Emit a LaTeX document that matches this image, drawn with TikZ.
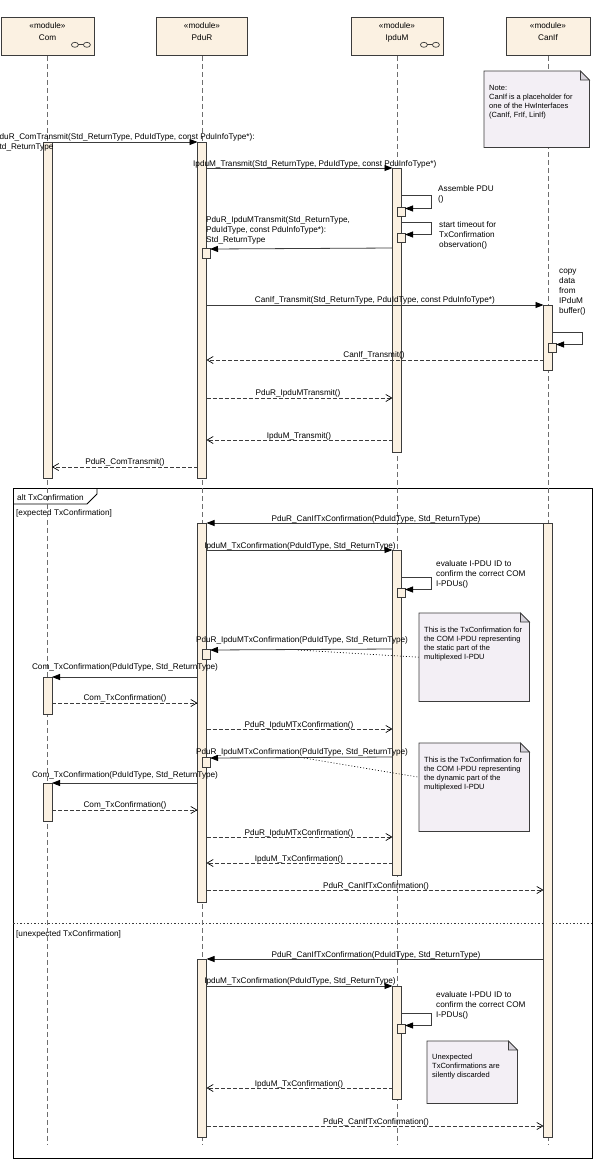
\documentclass[tikz,border=0pt]{standalone}
\usepackage{fontspec}
\setmainfont{Liberation Sans}
\usetikzlibrary{arrows.meta}
\definecolor{modfill}{RGB}{251,241,226}
\definecolor{notefill}{RGB}{243,239,245}
\definecolor{foldfill}{RGB}{214,210,218}
\definecolor{linegray}{RGB}{60,60,60}
\definecolor{lifegray}{RGB}{110,110,110}
\tikzset{
  module/.style={draw=linegray,fill=modfill,line width=0.8pt,inner sep=0pt,minimum height=38pt},
  act/.style={draw=linegray,fill=modfill,line width=0.8pt,minimum width=9pt,inner sep=0pt,outer sep=0pt},
  nested/.style={act,minimum width=8pt,minimum height=9pt},
  lifeline/.style={draw=lifegray,line width=0.8pt,dash pattern=on 5pt off 3pt},
  call/.style={draw=linegray,line width=0.8pt,-{Triangle[length=8pt,width=6pt,color=black]}},
  reply/.style={draw=linegray,line width=0.7pt,dash pattern=on 4pt off 2pt,-{Straight Barb[length=6pt,width=7pt,color=black]}},
  lbl/.style={inner sep=0pt,font=\fontsize{8.2}{10}\selectfont,align=left},
  notebox/.style={inner sep=0pt,anchor=north west},
  notetxt/.style={inner sep=0pt,font=\fontsize{7.5}{9}\selectfont,align=left,anchor=north west},
  notelink/.style={draw=black,line width=0.6pt,dash pattern=on 1pt off 2pt},
}
\begin{document}
\begin{tikzpicture}[x=1pt,y=-1pt]
  \useasboundingbox (0,0) rectangle (596,1168);

  % message levels
  \foreach \n/\y in {m1/142,m2/168,s1/195,s2/222,m5/248,m6/305,s3/332,m8/360,m9/398,m10/440,m11/467,
      a1/523,a2/550,s4/577,a4/649,a5/677,a6/703,a7/729,a8/757,a9/783,a10/810,a11/837,a12/863,a13/890,
      sep/923,b1/959,b2/986,s5/1013,b4/1088,b5/1126,lend/1145}
    \coordinate (\n) at (0,\y);

  % modules
  \path (47.5,17) node[module,anchor=north,minimum width=93pt] (com) {};
  \path (202,17) node[module,anchor=north,minimum width=91pt] (pdur) {};
  \path (397,17) node[module,anchor=north,minimum width=92pt] (ipdum) {};
  \path (548,17) node[module,anchor=north,minimum width=84pt] (canif) {};
  \foreach \m/\t in {com/Com,pdur/PduR,ipdum/IpduM,canif/CanIf}
    \path ([yshift=-5pt]\m.north) node[lbl,anchor=north,align=center] (\m-name) {«module»\\[2pt]\t};
  \foreach \m in {com,ipdum} {
    \draw[linegray,line width=0.7pt] ([xshift=-19.5pt,yshift=11pt]\m.south east) ellipse [x radius=3.5pt,y radius=2.5pt];
    \draw[linegray,line width=0.7pt] ([xshift=-7.5pt,yshift=11pt]\m.south east) ellipse [x radius=3.5pt,y radius=2.5pt];
    \draw[linegray,line width=0.7pt] ([xshift=-16pt,yshift=11pt]\m.south east) -- ([xshift=-11pt,yshift=11pt]\m.south east);
  }

  % alt fragment
  \path (13,488) node[draw=black,line width=0.8pt,anchor=north west,minimum width=579pt,minimum height=670pt,inner sep=0pt] (alt) {};
  \draw[line width=0.8pt] ([yshift=-16pt]alt.north west) -- ++(74,0) -- ++(10,-10) -- ++(0,-6);
  \path (17,500) node[lbl,anchor=base west] (alt-name) {alt TxConfirmation};
  \path (16,515) node[lbl,anchor=base west] (guard1) {[expected TxConfirmation]};
  \draw[draw=linegray,line width=0.7pt,dash pattern=on 1.5pt off 2pt] (alt.west |- sep) -- (alt.east |- sep);
  \path (16,936) node[lbl,anchor=base west] (guard2) {[unexpected TxConfirmation]};

  % lifelines
  \foreach \m in {com,pdur,ipdum,canif}
    \draw[lifeline] (\m.south) -- (\m.south |- lend);

  % activations
  \path (com.south |- m1) node[act,anchor=north,minimum height=336pt] (aCom1) {};
  \path (pdur.south |- m1) node[act,anchor=north,minimum height=336pt] (aPduR1) {};
  \path (ipdum.south |- m2) node[act,anchor=north,minimum height=284pt] (aIpM1) {};
  \path (canif.south |- m6) node[act,anchor=north,minimum height=65pt] (aCanIf1) {};
  \path (pdur.south |- a1) node[act,anchor=north,minimum height=379pt] (aPduR2) {};
  \path (canif.south |- a1) node[act,anchor=north,minimum height=614pt] (aCanIf2) {};
  \path (ipdum.south |- a2) node[act,anchor=north,minimum height=325pt] (aIpM2) {};
  \path (com.south |- a5) node[act,anchor=north,minimum height=37pt] (aCom2) {};
  \path (com.south |- a9) node[act,anchor=north,minimum height=38pt] (aCom3) {};
  \path (pdur.south |- b1) node[act,anchor=north,minimum height=178pt] (aPduR3) {};
  \path (ipdum.south |- b2) node[act,anchor=north,minimum height=113pt] (aIpM3) {};
  \path (401,207) node[nested,anchor=north] (nIp1) {};
  \path (401,233) node[nested,anchor=north] (nIp2) {};
  \path (206,248) node[nested,anchor=north,minimum height=10pt] (nPd1) {};
  \path (552,343) node[nested,anchor=north] (nCi1) {};
  \path (401,588) node[nested,anchor=north] (nIp3) {};
  \path (206,649) node[nested,anchor=north,minimum height=10pt] (nPd2) {};
  \path (206,757) node[nested,anchor=north,minimum height=10pt] (nPd3) {};
  \path (401,1024) node[nested,anchor=north] (nIp4) {};

  % notes
  \path (484,71) node[notebox,minimum width=105pt,minimum height=76pt] (note1) {};
  \path (419,613) node[notebox,minimum width=110pt,minimum height=88pt] (note2) {};
  \path (419,743) node[notebox,minimum width=110pt,minimum height=88pt] (note3) {};
  \path (427,1041) node[notebox,minimum width=90pt,minimum height=62pt] (note4) {};
  \foreach \n in {note1,note2,note3,note4} {
    \draw[draw=linegray,fill=notefill,line width=0.7pt] (\n.north west) -- ([xshift=-9pt]\n.north east)
      -- ([yshift=-9pt]\n.north east) -- (\n.south east) -- (\n.south west) -- cycle;
    \draw[draw=linegray,fill=foldfill,line width=0.7pt] ([xshift=-9pt]\n.north east)
      -- ([xshift=-9pt,yshift=-9pt]\n.north east) -- ([yshift=-9pt]\n.north east) -- cycle;
  }
  \path (489,85) node[notetxt] (t1) {Note:\\CanIf is a placeholder for\\one of the HwInterfaces\\(CanIf, FrIf, LinIf)};
  \path (424,627) node[notetxt] (t2) {This is the TxConfirmation for\\the COM I-PDU representing\\the static part of the\\multiplexed I-PDU};
  \path (424,757) node[notetxt] (t3) {This is the TxConfirmation for\\the COM I-PDU representing\\the dynamic part of the\\multiplexed I-PDU};
  \path (432,1054) node[notetxt] (t4) {Unexpected\\TxConfirmations are\\silently discarded};
  \coordinate (c2) at (298,650);
  \coordinate (c3) at (298,757);
  \draw[notelink] (c2) -- (note2.west);
  \draw[notelink] (c3) -- ([yshift=10pt]note3.west);

  % transmit
  \draw[call] (aCom1.east |- m1) -- (aPduR1.west |- m1);
  \path (-6,133) node[lbl,anchor=north west] (l1) {PduR\_ComTransmit(Std\_ReturnType, PduIdType, const PduInfoType*):\\Std\_ReturnType};
  \draw[call] (aPduR1.east |- m2) -- (aIpM1.west |- m2);
  \path (193,166) node[lbl,anchor=base west] (l2) {IpduM\_Transmit(Std\_ReturnType, PduIdType, const PduInfoType*)};
  \draw[call] (aIpM1.east |- s1) -- ++(30,0) |- ([yshift=-1.5pt]nIp1.north east);
  \path (438,185) node[lbl,anchor=north west] (l3) {Assemble PDU\\()};
  \draw[call] (aIpM1.east |- s2) -- ++(30,0) |- ([yshift=-1.5pt]nIp2.north east);
  \path (439,221) node[lbl,anchor=north west] (l4) {start timeout for\\TxConfirmation\\observation()};
  \draw[call] (aIpM1.west |- m5) -- ([yshift=-1pt]nPd1.north east);
  \path (206,216) node[lbl,anchor=north west] (l5) {PduR\_IpduMTransmit(Std\_ReturnType,\\PduIdType, const PduInfoType*):\\Std\_ReturnType};
  \draw[call] (aPduR1.east |- m6) -- (aCanIf1.west |- m6);
  \path (495,302) node[lbl,anchor=base east] (l6) {CanIf\_Transmit(Std\_ReturnType, PduIdType, const PduInfoType*)};
  \path (559,269) node[lbl,anchor=north west] (l7) {copy\\data\\from\\IPduM\\buffer()};
  \draw[call] (aCanIf1.east |- s3) -- ++(30,0) |- ([yshift=-1.5pt]nCi1.north east);
  \draw[reply] (aCanIf1.west |- m8) -- (aPduR1.east |- m8);
  \path (374,357) node[lbl,anchor=base] (l8) {CanIf\_Transmit()};
  \draw[reply] (aPduR1.east |- m9) -- (aIpM1.west |- m9);
  \path (298,395) node[lbl,anchor=base] (l9) {PduR\_IpduMTransmit()};
  \draw[reply] (aIpM1.west |- m10) -- (aPduR1.east |- m10);
  \path (299,438) node[lbl,anchor=base] (l10) {IpduM\_Transmit()};
  \draw[reply] (aPduR1.west |- m11) -- (aCom1.east |- m11);
  \path (125,464) node[lbl,anchor=base] (l11) {PduR\_ComTransmit()};

  % expected TxConfirmation
  \draw[call] (aCanIf2.west |- a1) -- (aPduR2.east |- a1);
  \path (376,521) node[lbl,anchor=base] (l12) {PduR\_CanIfTxConfirmation(PduIdType, Std\_ReturnType)};
  \draw[call] (aPduR2.east |- a2) -- (aIpM2.west |- a2);
  \path (300,548) node[lbl,anchor=base] (l13) {IpduM\_TxConfirmation(PduIdType, Std\_ReturnType)};
  \draw[call] (aIpM2.east |- s4) -- ++(30,0) |- ([yshift=-1.5pt]nIp3.north east);
  \path (436,560) node[lbl,anchor=north west] (l14) {evaluate I-PDU ID to\\confirm the correct COM\\I-PDUs()};
  \draw[call] (aIpM2.west |- a4) -- ([yshift=-1pt]nPd2.north east);
  \path (302,642) node[lbl,anchor=base] (l15) {PduR\_IpduMTxConfirmation(PduIdType, Std\_ReturnType)};
  \draw[call] (aPduR2.west |- a5) -- (aCom2.east |- a5);
  \path (125,669) node[lbl,anchor=base] (l16) {Com\_TxConfirmation(PduIdType, Std\_ReturnType)};
  \draw[reply] (aCom2.east |- a6) -- (aPduR2.west |- a6);
  \path (125,700) node[lbl,anchor=base] (l17) {Com\_TxConfirmation()};
  \draw[reply] (aPduR2.east |- a7) -- (aIpM2.west |- a7);
  \path (299,727) node[lbl,anchor=base] (l18) {PduR\_IpduMTxConfirmation()};
  \draw[call] (aIpM2.west |- a8) -- ([yshift=-1pt]nPd3.north east);
  \path (302,754) node[lbl,anchor=base] (l19) {PduR\_IpduMTxConfirmation(PduIdType, Std\_ReturnType)};
  \draw[call] (aPduR2.west |- a9) -- (aCom3.east |- a9);
  \path (125,777) node[lbl,anchor=base] (l20) {Com\_TxConfirmation(PduIdType, Std\_ReturnType)};
  \draw[reply] (aCom3.east |- a10) -- (aPduR2.west |- a10);
  \path (125,807) node[lbl,anchor=base] (l21) {Com\_TxConfirmation()};
  \draw[reply] (aPduR2.east |- a11) -- (aIpM2.west |- a11);
  \path (299,835) node[lbl,anchor=base] (l22) {PduR\_IpduMTxConfirmation()};
  \draw[reply] (aIpM2.west |- a12) -- (aPduR2.east |- a12);
  \path (299,861) node[lbl,anchor=base] (l23) {IpduM\_TxConfirmation()};
  \draw[reply] (aPduR2.east |- a13) -- (aCanIf2.west |- a13);
  \path (376,888) node[lbl,anchor=base] (l24) {PduR\_CanIfTxConfirmation()};

  % unexpected TxConfirmation
  \draw[call] (aCanIf2.west |- b1) -- (aPduR3.east |- b1);
  \path (376,957) node[lbl,anchor=base] (l25) {PduR\_CanIfTxConfirmation(PduIdType, Std\_ReturnType)};
  \draw[call] (aPduR3.east |- b2) -- (aIpM3.west |- b2);
  \path (300,983) node[lbl,anchor=base] (l26) {IpduM\_TxConfirmation(PduIdType, Std\_ReturnType)};
  \draw[call] (aIpM3.east |- s5) -- ++(30,0) |- ([yshift=-1.5pt]nIp4.north east);
  \path (436,991) node[lbl,anchor=north west] (l27) {evaluate I-PDU ID to\\confirm the correct COM\\I-PDUs()};
  \draw[reply] (aIpM3.west |- b4) -- (aPduR3.east |- b4);
  \path (299,1086) node[lbl,anchor=base] (l28) {IpduM\_TxConfirmation()};
  \draw[reply] (aPduR3.east |- b5) -- (aCanIf2.west |- b5);
  \path (376,1124) node[lbl,anchor=base] (l29) {PduR\_CanIfTxConfirmation()};
\end{tikzpicture}
\end{document}
